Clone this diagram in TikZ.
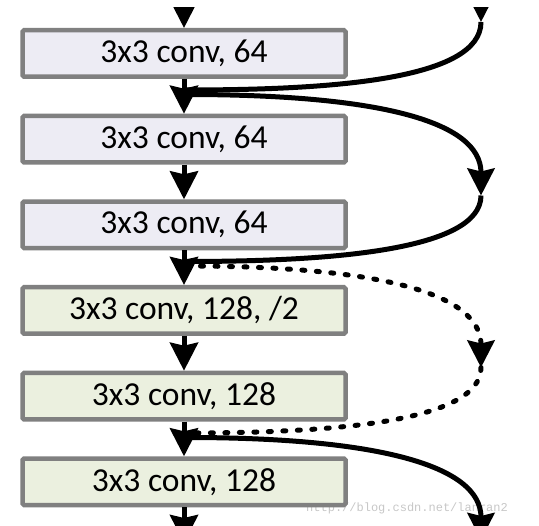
\documentclass[tikz,border=0pt]{standalone}
\usepackage{fontspec}
\setmainfont{Carlito}
\newfontfamily\markfont{Liberation Mono}
\usetikzlibrary{arrows.meta}
\colorlet{boxGray}{black!50}
\definecolor{convLavender}{RGB}{237,236,244}
\definecolor{convGreen}{RGB}{235,240,223}

\begin{document}
\begin{tikzpicture}[x=1pt, y=-1pt,
    every node/.style={font=\fontsize{33.5}{37}\selectfont},
    conv/.style={draw=boxGray, line width=4.5pt, rounded corners=1.5pt, minimum width=323pt, minimum height=46.5pt, inner sep=0pt},
    conv64/.style={conv, fill=convLavender},
    conv128/.style={conv, fill=convGreen},
    flow/.style={line width=5pt, -{Stealth[width=28pt, length=28pt, inset=3pt]}},
    skip/.style={line width=5pt},
    skiptip/.style={skip, -{Stealth[width=27pt, length=27pt, inset=3pt]}},
    dotted skip/.style={dash pattern=on 3pt off 11.5pt, line cap=round}]
        \useasboundingbox (0,0) rectangle (539,526);
        \clip (0,7.5) rectangle (539,526);

        % watermark
        \node[font=\markfont\fontsize{12}{13}\selectfont, text=black!22, anchor=base west, inner sep=0pt] (mark) at (306,511.5) {http://blog.csdn.net/lanran2};

        % 64-channel layers
        \node[conv64] (c1) at (184,53.5) {3x3 conv, 64};
        \node[conv64] (c2) at (184,139.2) {3x3 conv, 64};
        \node[conv64] (c3) at (184,224.8) {3x3 conv, 64};

        % 128-channel layers
        \node[conv128] (c4) at (184,310.5) {3x3 conv, 128, /2};
        \node[conv128] (c5) at (184,396.2) {3x3 conv, 128};
        \node[conv128] (c6) at (184,481.8) {3x3 conv, 128};

        % ends of the main path
        \coordinate (inTop) at (184,-10);
        \coordinate (nextTop) at (184,543);

        % junctions on the main path
        \coordinate (j1in) at (186,90);
        \coordinate (j1out) at (186,94.5);
        \coordinate (j3in) at (186,261.5);
        \coordinate (j3out) at (186,266);
        \coordinate (j5in) at (186,433);
        \coordinate (j5out) at (186,437.5);

        % arrow tips on the shortcuts
        \coordinate (s0) at (481,-20);
        \coordinate (t0) at (481,22);
        \coordinate (t1) at (481,195.5);
        \coordinate (t2) at (481,367.5);
        \coordinate (t3) at (481,540);

        % shortcuts
        \draw[skiptip] (s0) -- (t0);
        \draw[skip] (t0) .. controls +(0,58) and +(144,0) .. (j1in);
        \draw[skiptip] (j1out) .. controls +(190,0) and +(0,-75) .. (t1);
        \draw[skip] (t1) .. controls +(0,55) and +(144,0) .. (j3in);
        \draw[skiptip, dotted skip] (j3out) .. controls +(190,0) and +(0,-75) .. (t2);
        \draw[skip, dotted skip] (t2) .. controls +(0,55) and +(144,0) .. (j5in);
        \draw[skiptip] (j5out) .. controls +(190,0) and +(0,-75) .. (t3);

        % main path
        \draw[flow] (inTop) -- (c1);
        \foreach \a/\b in {c1/c2, c2/c3, c3/c4, c4/c5, c5/c6}
            \draw[flow] (\a) -- (\b);
        \draw[flow] (c6) -- (nextTop);
    \end{tikzpicture}
\end{document}
